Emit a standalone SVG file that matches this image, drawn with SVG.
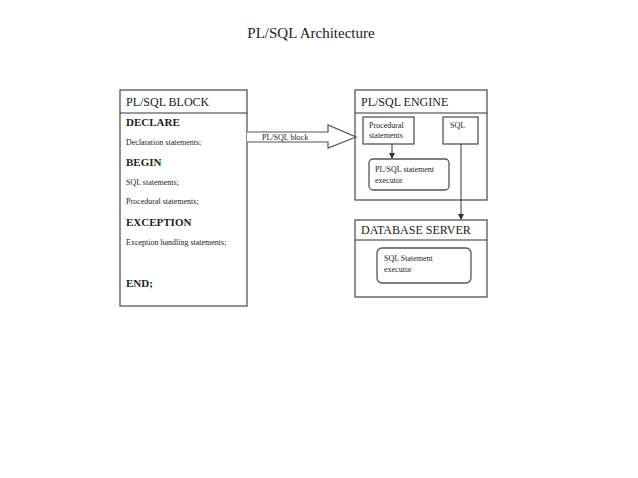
<svg xmlns="http://www.w3.org/2000/svg" width="638" height="478" viewBox="0 0 638 478">
<defs>
<style>
text{font-family:"Liberation Serif","Times New Roman",serif;fill:#222}
.b{fill:#fff;stroke:#555;stroke-width:1.3}
.h{font-size:12px}
.k{font-size:11px;font-weight:bold}
.s{font-size:8px}
.l{stroke:#333;stroke-width:1}
</style>
<marker id="a" markerWidth="6" markerHeight="6" refX="5" refY="3" orient="auto"><path d="M0,0L6,3L0,6z" fill="#333"/></marker>
</defs>
<rect width="638" height="478" fill="#fff"/>
<text x="311" y="38" text-anchor="middle" font-size="15">PL/SQL Architecture</text>
<g id="block">
<rect class="b" x="120" y="90" width="127" height="216"/>
<line class="l" x1="120" y1="113" x2="247" y2="113"/>
<text class="h" x="126" y="106">PL/SQL BLOCK</text>
<text class="k" x="126" y="126">DECLARE</text>
<text class="s" x="126" y="145">Declaration statements;</text>
<text class="k" x="126" y="166">BEGIN</text>
<text class="s" x="126" y="185">SQL statements;</text>
<text class="s" x="126" y="204">Procedural statements;</text>
<text class="k" x="126" y="226">EXCEPTION</text>
<text class="s" x="126" y="245">Exception handling statements;</text>
<text class="k" x="126" y="287">END;</text>
</g>
<g id="engine">
<rect class="b" x="355" y="90" width="132" height="110"/>
<line class="l" x1="355" y1="113" x2="487" y2="113"/>
<text class="h" x="361" y="106">PL/SQL ENGINE</text>
<rect class="b" x="363" y="117" width="51" height="27"/>
<text class="s" x="369" y="128">Procedural</text>
<text class="s" x="369" y="138">statements</text>
<rect class="b" x="443" y="117" width="35" height="27"/>
<text class="s" x="450" y="128">SQL</text>
<rect class="b" x="369" y="159" width="80" height="31" rx="4"/>
<text class="s" x="375" y="172">PL/SQL statement</text>
<text class="s" x="375" y="183">executor</text>
</g>
<g id="server">
<rect class="b" x="355" y="220" width="132" height="77"/>
<line class="l" x1="355" y1="240" x2="487" y2="240"/>
<text class="h" x="361" y="234">DATABASE SERVER</text>
<rect class="b" x="377" y="248" width="94" height="35" rx="5"/>
<text class="s" x="384" y="261">SQL Statement</text>
<text class="s" x="384" y="272">executor</text>
</g>
<g id="connectors">
<path d="M247,132H328V125L356,137L328,148V142H247" fill="#fff" stroke="#555" stroke-width="1.2"/>
<text class="s" x="262" y="140">PL/SQL block</text>
<line class="l" x1="392" y1="144" x2="392" y2="158" marker-end="url(#a)"/>
<line class="l" x1="461" y1="144" x2="461" y2="219" marker-end="url(#a)"/>
</g>
</svg>
